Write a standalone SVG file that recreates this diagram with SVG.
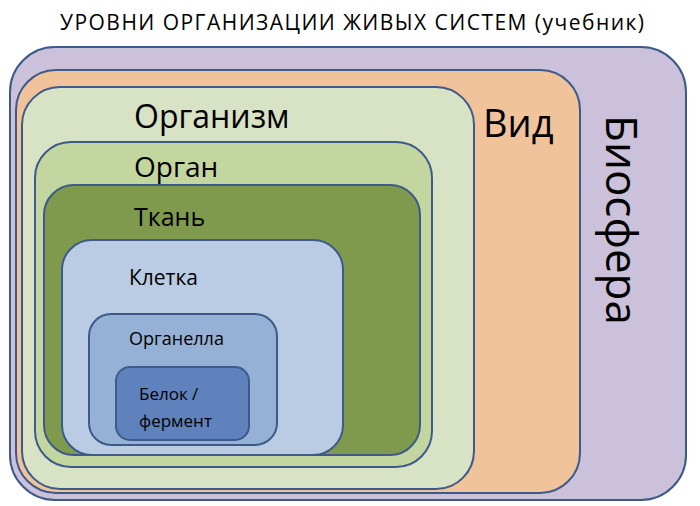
<svg xmlns="http://www.w3.org/2000/svg" width="700" height="506" viewBox="0 0 700 506">
<style>
.b{stroke:#3d5a8a;stroke-width:2}
text{font-family:"Open Sans","Liberation Sans",sans-serif;fill:#000}
</style>
<rect width="700" height="506" fill="#fff"/>
<text x="352" y="30" font-size="21" text-anchor="middle" textLength="584">УРОВНИ ОРГАНИЗАЦИИ ЖИВЫХ СИСТЕМ (учебник)</text>
<g id="biosphere"><rect class="b" x="10" y="47" width="676" height="453" rx="45" fill="#ccc1da"/>
<text transform="translate(606,220) rotate(90)" font-size="44" text-anchor="middle">Биосфера</text></g>
<g id="vid"><rect class="b" x="16" y="70" width="564" height="423" rx="40" fill="#f1c39b"/>
<text x="483" y="137" font-size="38">Вид</text></g>
<g id="organism"><rect class="b" x="22" y="87" width="452" height="402" rx="38" fill="#d8e2c4"/>
<text x="134" y="128" font-size="32">Организм</text></g>
<g id="organ"><rect class="b" x="35" y="142" width="397" height="325" rx="36" fill="#c4d6a0"/>
<text x="134" y="177" font-size="28">Орган</text></g>
<g id="tkan"><rect class="b" x="44" y="185" width="376" height="270" rx="30" fill="#7f9a4c"/>
<text x="134" y="226" font-size="25">Ткань</text></g>
<g id="kletka"><rect class="b" x="62" y="240" width="281" height="215" rx="30" fill="#b9cce4"/>
<text x="129" y="285" font-size="21">Клетка</text></g>
<g id="organella"><rect class="b" x="89" y="314" width="188" height="131" rx="22" fill="#95b1d6"/>
<text x="129" y="345" font-size="18">Органелла</text></g>
<g id="belok"><rect class="b" x="116" y="367" width="133" height="73" rx="14" fill="#5f81bc"/>
<text x="139" y="400" font-size="17">Белок /</text><text x="139" y="427" font-size="17">фермент</text></g>
<g id="connectors"/>
</svg>
